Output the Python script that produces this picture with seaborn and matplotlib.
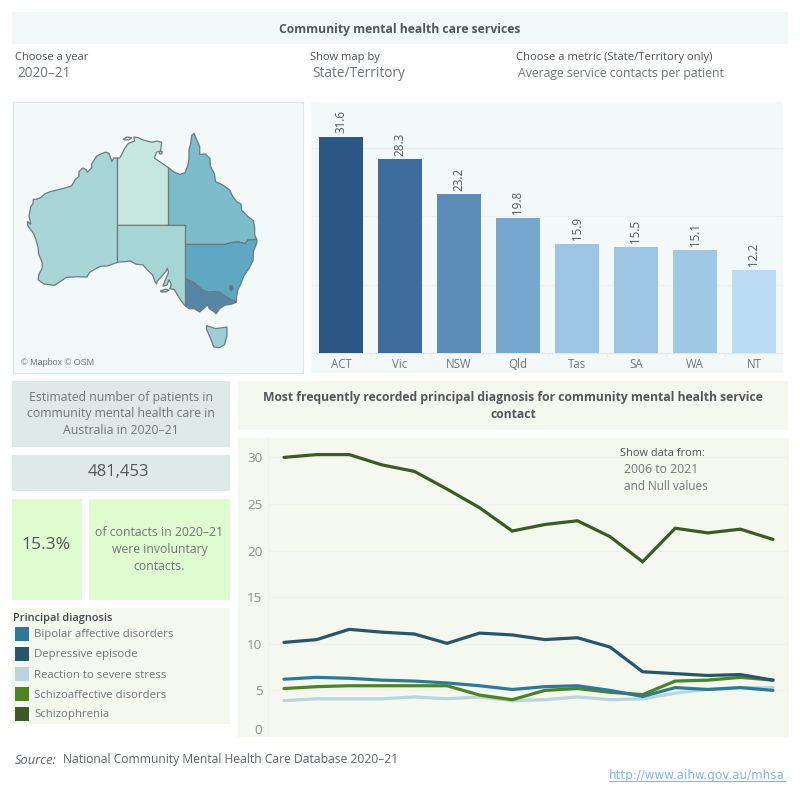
import numpy as np
import pandas as pd
import matplotlib
matplotlib.use("Agg")
import matplotlib.pyplot as plt
from matplotlib.patches import Rectangle
import seaborn as sns

sns.set_theme(style="white")
plt.rcParams["font.family"] = ["Open Sans", "DejaVu Sans"]

W, H = 800, 800

# Average service contacts per patient by jurisdiction
states = ["ACT", "Vic", "NSW", "Qld", "Tas", "SA", "WA", "NT"]
contacts = [31.6, 28.3, 23.2, 19.8, 15.9, 15.5, 15.1, 12.2]
bar_colors = ["#2a5783", "#3e6c9c", "#5c8db9", "#76a7cf", "#9cc5e3", "#9cc5e3", "#9fc8e5", "#b9dcf0"]
map_colors = {"ACT": "#3f6f98", "Vic": "#5586a8", "NSW": "#5ea8c2", "Qld": "#7cbccb",
              "Tas": "#9dd0d6", "SA": "#a5d5d5", "WA": "#a8d6d6", "NT": "#c6e7de"}

# Most frequently recorded principal diagnoses, 2006 to 2021
years = [2006, 2007, 2008, 2009, 2010, 2011, 2012, 2013, 2014, 2015, 2016, 2017, 2018, 2019, 2020, 2021]
schizophrenia = [30.0, 30.3, 30.3, 29.2, 28.5, 26.6, 24.6, 22.1, 22.8, 23.2, 21.5, 18.8, 22.4, 21.9, 22.3, 21.2]
depressive = [10.15, 10.45, 11.55, 11.25, 11.05, 10.05, 11.15, 10.95, 10.45, 10.65, 9.65, 7.0, 6.8, 6.6, 6.7, 6.1]
bipolar = [6.2, 6.4, 6.3, 6.1, 6.0, 5.8, 5.5, 5.1, 5.4, 5.5, 5.0, 4.35, 5.3, 5.1, 5.3, 5.0]
schizoaffective = [5.2, 5.4, 5.5, 5.5, 5.5, 5.5, 4.5, 4.0, 5.0, 5.2, 4.8, 4.55, 6.0, 6.1, 6.4, 6.1]
reaction = [3.9, 4.1, 4.1, 4.1, 4.3, 4.1, 4.3, 3.9, 4.0, 4.3, 4.0, 4.1, 4.7, 5.1, 5.3, 5.3]

diagnoses = ["Bipolar affective disorders", "Depressive episode", "Reaction to severe stress",
             "Schizoaffective disorders", "Schizophrenia"]
diagnosis_colors = ["#2b7a9b", "#25566b", "#b8d5e0", "#4c8423", "#3b5a24"]

# Jurisdiction outlines as longitude / latitude
wa_outline = [(129, -14.9), (128.3, -14.9), (128.0, -15.5), (127.5, -14.1), (126.9, -13.9), (126.1, -14.2),
              (125.3, -14.6), (124.8, -15.4), (124.4, -16.0), (124.5, -16.5), (123.7, -17.3), (123.5, -16.9),
              (122.9, -16.6), (122.2, -17.2), (122.2, -18.0), (121.5, -18.6), (120.9, -19.6), (119.5, -20.0),
              (118.2, -20.3), (117.0, -20.6), (116.2, -20.9), (115.5, -21.5), (114.7, -21.8), (114.15, -21.8),
              (114.1, -22.5), (113.7, -23.0), (113.5, -24.0), (113.4, -24.5), (113.7, -25.8), (113.1, -25.4),
              (113.2, -26.1), (113.6, -26.6), (114.2, -27.3), (114.6, -28.2), (115.0, -29.5), (115.1, -30.5),
              (115.7, -31.7), (115.7, -32.6), (115.1, -33.6), (115.0, -34.3), (116.0, -34.9), (117.9, -35.1),
              (119.0, -34.5), (120.0, -33.95), (121.9, -33.85), (123.6, -33.9), (124.1, -33.2), (125.0, -32.75),
              (126.0, -32.3), (127.3, -32.25), (129, -31.7)]
sa_outline = [(129, -26), (141, -26), (141, -38.05), (140.3, -37.4), (139.6, -36.5), (139.0, -35.7),
              (138.2, -35.6), (138.5, -35.0), (138.1, -34.3), (137.7, -35.1), (137.0, -35.2), (137.5, -34.2),
              (138.0, -33.2), (137.8, -32.6), (137.6, -33.0), (136.9, -33.7), (136.0, -34.5), (135.9, -34.9),
              (135.6, -34.6), (135.2, -33.6), (134.2, -32.8), (133.5, -32.1), (132.3, -32.0), (131.2, -31.5),
              (130.5, -31.6), (129, -31.7)]
kangaroo_outline = [(136.6, -35.9), (137.5, -35.65), (138.1, -35.8), (137.5, -36.05), (136.7, -36.05)]
nt_outline = [(129, -26), (138, -26), (138, -16.55), (137.0, -15.9), (135.5, -14.9), (135.9, -13.9),
              (136.6, -13.7), (136.8, -12.2), (135.9, -12.0), (135.0, -12.2), (133.5, -11.8), (132.6, -11.4),
              (131.9, -11.3), (132.0, -12.0), (130.9, -12.4), (130.3, -13.2), (129.8, -14.2), (129.4, -14.9),
              (129, -14.9)]
melville_outline = [(130.0, -11.7), (130.6, -11.3), (131.5, -11.4), (131.0, -11.8), (130.3, -11.8)]
groote_outline = [(136.4, -13.8), (136.9, -13.8), (136.8, -14.2), (136.4, -14.2)]
qld_outline = [(138, -16.55), (139.0, -17.3), (140.0, -17.7), (140.9, -17.4), (141.4, -16.2), (141.6, -15),
               (141.6, -13.5), (141.9, -12.5), (142.1, -11.0), (142.5, -10.7), (143.0, -11.8), (143.5, -12.9),
               (143.5, -14.3), (144.5, -14.2), (145.3, -15.0), (145.4, -16.3), (146.1, -17.6), (146.3, -18.9),
               (147.5, -19.4), (148.8, -20.3), (149.3, -21.3), (150.0, -22.2), (150.8, -22.6), (150.9, -23.6),
               (152.0, -24.6), (153.0, -25.3), (153.2, -26.5), (153.2, -27.5), (153.55, -28.2), (152.0, -28.3),
               (151.5, -28.9), (150.3, -28.6), (149.0, -28.7), (148.0, -29), (141, -29), (141, -26), (138, -26)]
nsw_outline = [(141, -29), (148.0, -29), (149.0, -28.7), (150.3, -28.6), (151.5, -28.9), (152.0, -28.3),
               (153.55, -28.2), (153.6, -28.7), (153.0, -30.0), (152.9, -31.5), (152.2, -32.6), (151.3, -33.7),
               (150.9, -34.6), (150.2, -35.8), (150.0, -36.7), (149.98, -37.5), (148.2, -36.8), (147.0, -36.1),
               (146.0, -36.0), (145.0, -36.1), (144.0, -35.8), (143.3, -35.3), (142.4, -34.7), (141, -34.1)]
vic_outline = [(141, -34.1), (142.4, -34.7), (143.3, -35.3), (144.0, -35.8), (145.0, -36.1), (146.0, -36.0),
               (147.0, -36.1), (148.2, -36.8), (149.98, -37.5), (149.0, -37.8), (148.0, -37.9), (147.0, -38.4),
               (146.4, -39.1), (146.0, -38.8), (145.2, -38.4), (144.9, -37.85), (144.3, -38.3), (143.5, -38.85),
               (142.5, -38.4), (141.6, -38.4), (141, -38.05)]
act_outline = [(148.8, -35.2), (149.2, -35.15), (149.4, -35.5), (149.1, -35.9), (148.8, -35.6)]
tas_outline = [(144.7, -40.7), (146.3, -41.1), (148.3, -40.9), (148.3, -42.0), (147.9, -43.2), (146.9, -43.6),
               (146.0, -43.5), (145.3, -42.2), (144.7, -41.2)]
map_shapes = [("WA", wa_outline), ("SA", sa_outline), ("SA", kangaroo_outline), ("NT", nt_outline),
              ("NT", melville_outline), ("NT", groote_outline), ("Qld", qld_outline), ("NSW", nsw_outline),
              ("Vic", vic_outline), ("ACT", act_outline), ("Tas", tas_outline)]

INK = "#52575b"
MUTED = "#707579"
PANEL_BLUE = "#f3f9f9"
PANEL_GREEN = "#f4f8ef"
PANEL_TEAL = "#deeae8"
PANEL_LIME = "#e0fdd0"


def frac(x0, y0, x1, y1):
    """Figure rectangle from pixel edges measured from the top left."""
    return [x0 / W, 1 - y1 / H, (x1 - x0) / W, (y1 - y0) / H]


def panel(x0, y0, x1, y1, color, edge="none"):
    fig.add_artist(Rectangle((x0 / W, 1 - y1 / H), (x1 - x0) / W, (y1 - y0) / H, transform=fig.transFigure,
                             facecolor=color, edgecolor=edge, linewidth=0.8, zorder=-2))


def label(x, y, text, size=8.5, color=INK, ha="left", **kwargs):
    return fig.text(x / W, 1 - y / H, text, fontsize=size, color=color, ha=ha, va="center", zorder=5, **kwargs)


def mercator(lat):
    return np.degrees(np.log(np.tan(np.radians(45 + lat / 2))))


fig = plt.figure(figsize=(8, 8), dpi=100, facecolor="white")

# Dashboard panels
panel(12, 12, 788, 44, PANEL_BLUE)
panel(13, 102, 303, 373, PANEL_BLUE, edge="#dfe3e3")
panel(311, 102, 783, 373, PANEL_BLUE)
panel(12, 381, 230, 447, PANEL_TEAL)
panel(12, 455, 230, 491, PANEL_TEAL)
panel(12, 499, 82, 600, PANEL_LIME)
panel(89, 499, 230, 600, PANEL_LIME)
panel(12, 608, 230, 724, PANEL_GREEN)
panel(238, 381, 788, 430, PANEL_GREEN)
panel(238, 438, 789, 737, PANEL_GREEN)

# Header and selectors
label(400, 29, "Community mental health care services", size=8.7, ha="center", fontweight="bold")
label(15, 57.5, "Choose a year", size=8.0, color="#4d5256")
label(17, 73.5, "2020\u201321", size=9.8, color=MUTED)
label(310, 57.5, "Show map by", size=8.0, color="#4d5256")
label(312, 73.5, "State/Territory", size=9.8, color=MUTED)
label(516, 57.5, "Choose a metric (State/Territory only)", size=8.1, color="#4d5256")
label(518, 73, "Average service contacts per patient", size=8.85, color=MUTED)

# Choropleth of the jurisdictions
ax_map = fig.add_axes(frac(13, 102, 303, 373), facecolor="none")
px_per_deg = 5.67
ax_map.set_xlim(129 - 104.5 / px_per_deg, 129 + 185.5 / px_per_deg)
y_ref = mercator(-26)
ax_map.set_ylim(y_ref - (373 - 225.3) / px_per_deg, y_ref + (225.3 - 102) / px_per_deg)
for state, outline in map_shapes:
    lon, lat = np.array(outline).T
    ax_map.fill(lon, mercator(lat), facecolor=map_colors[state], edgecolor="#6e7a7c", linewidth=0.9,
                joinstyle="round")
ax_map.axis("off")
label(21, 362.5, "\u00a9 Mapbox \u00a9 OSM", size=6.5, color="#6f7478", family="Liberation Sans")

# Ranked bars
ax_bar = fig.add_axes(frac(311.5, 102, 783.5, 373), facecolor="none")
bar_data = pd.DataFrame({"state": states, "contacts": contacts})
sns.barplot(data=bar_data, x="state", y="contacts", hue="state", palette=bar_colors, legend=False,
            width=0.746, saturation=1, linewidth=0, ax=ax_bar, zorder=3)
ax_bar.set_xlim(-0.5, 7.5)
ax_bar.set_ylim(-20 / 6.84, 251 / 6.84)
ax_bar.set_xlabel("")
ax_bar.set_ylabel("")
ax_bar.set_yticks([0, 10, 20, 30])
ax_bar.set_yticklabels([])
ax_bar.grid(axis="y", color="#eef0f0", linewidth=0.8, zorder=0)
ax_bar.tick_params(axis="both", length=0)
ax_bar.set_xticks([])
sns.despine(ax=ax_bar, left=True, bottom=True)
for i, (state, value) in enumerate(zip(states, contacts)):
    ax_bar.text(i, -11 / 6.84, state, ha="center", va="center", fontsize=8.3, color=MUTED)
    ax_bar.text(i, value + 0.55, f"{value:.1f}", rotation=90, ha="center", va="bottom", fontsize=8.4, color=INK)
    ax_bar.plot([i + 0.5, i + 0.5], [0, -3 / 6.84], color="#e8eaea", linewidth=0.8)
ax_bar.axhline(0, color="#e4e8e8", linewidth=0.8, zorder=1)

# Summary cards
for y, line in zip([397.5, 414, 430.5], ["Estimated number of patients in", "community mental health care in",
                                         "Australia in 2020\u201321"]):
    label(121, y, line, size=8.8, color=MUTED, ha="center")
label(118, 471.5, "481,453", size=12, ha="center")
label(46, 545, "15.3%", size=12.6, ha="center")
for y, line in zip([533, 550, 566.5], ["of contacts in 2020\u201321", "were involuntary", "contacts."]):
    label(159.5, y, line, size=8.8, color=MUTED, ha="center")

# Legend for the diagnosis series
label(13, 619, "Principal diagnosis", size=7.9, color="#43484c", fontweight="semibold")
for i, (name, color) in enumerate(zip(diagnoses, diagnosis_colors)):
    fig.add_artist(Rectangle((15 / W, 1 - (641 + 20 * i) / H), 14 / W, 14 / H, transform=fig.transFigure,
                             facecolor=color, edgecolor="none"))
    label(34, 635 + 20 * i, name, size=8.2, color=MUTED)

# Line chart title
label(513, 397.5, "Most frequently recorded principal diagnosis for community mental health service",
      size=8.77, ha="center", fontweight="bold")
label(513, 414.5, "contact", size=8.77, ha="center", fontweight="bold")

# Trend lines, drawn lightest first so the darker series stay on top
ax_line = fig.add_axes(frac(268, 438, 789, 737), facecolor="none")
trend = pd.DataFrame({
    "year": years * 5,
    "share": bipolar + depressive + reaction + schizoaffective + schizophrenia,
    "diagnosis": np.repeat(diagnoses, len(years)),
})
palette = dict(zip(diagnoses, diagnosis_colors))
for name in ["Reaction to severe stress", "Schizoaffective disorders", "Schizophrenia",
             "Bipolar affective disorders", "Depressive episode"]:
    sns.lineplot(data=trend[trend["diagnosis"] == name], x="year", y="share", color=palette[name],
                 linewidth=2.3, errorbar=None, ax=ax_line, zorder=3, solid_joinstyle="miter",
                 solid_capstyle="round")
ax_line.set_xlim(2006 - 16 / 32.6, 2021 + 16 / 32.6)
ax_line.set_ylim(0, 299 / 9.32)
ax_line.set_xlabel("")
ax_line.set_ylabel("")
ax_line.set_xticks([])
ax_line.set_yticks([0, 5, 10, 15, 20, 25, 30])
ax_line.tick_params(axis="y", length=0, labelsize=9.7, labelcolor="#8a8f90", pad=4)
ax_line.grid(axis="y", color="#eef3f0", linewidth=0.8)
ax_line.get_yticklabels()[0].set_va("bottom")
sns.despine(ax=ax_line, top=True, right=True, bottom=True)
ax_line.spines["left"].set_color("#eef3f0")
ax_line.spines["left"].set_linewidth(0.8)

label(620, 453, "Show data from:", size=7.9, color="#4d5256")
label(623.5, 469, "2006 to 2021", size=8.8, color=MUTED)
label(623.5, 486, "and Null values", size=8.5, color=MUTED)

# Footer
label(15, 760, "Source:", size=9.3, color="#5f6468", style="italic")
label(63, 759, "National Community Mental Health Care Database 2020\u201321", size=8.7, color="#5f6468")
link = label(785, 775, "http://www.aihw.gov.au/mhsa", size=8.55, color="#7dbcdc", ha="right", family="DejaVu Sans")
fig.canvas.draw()
box = link.get_window_extent()
fig.add_artist(plt.Line2D([box.x0 / W, 785 / W], [1 - 780.5 / H, 1 - 780.5 / H], color="#7dbcdc", linewidth=0.8))

fig.savefig("out.png", dpi=100)
